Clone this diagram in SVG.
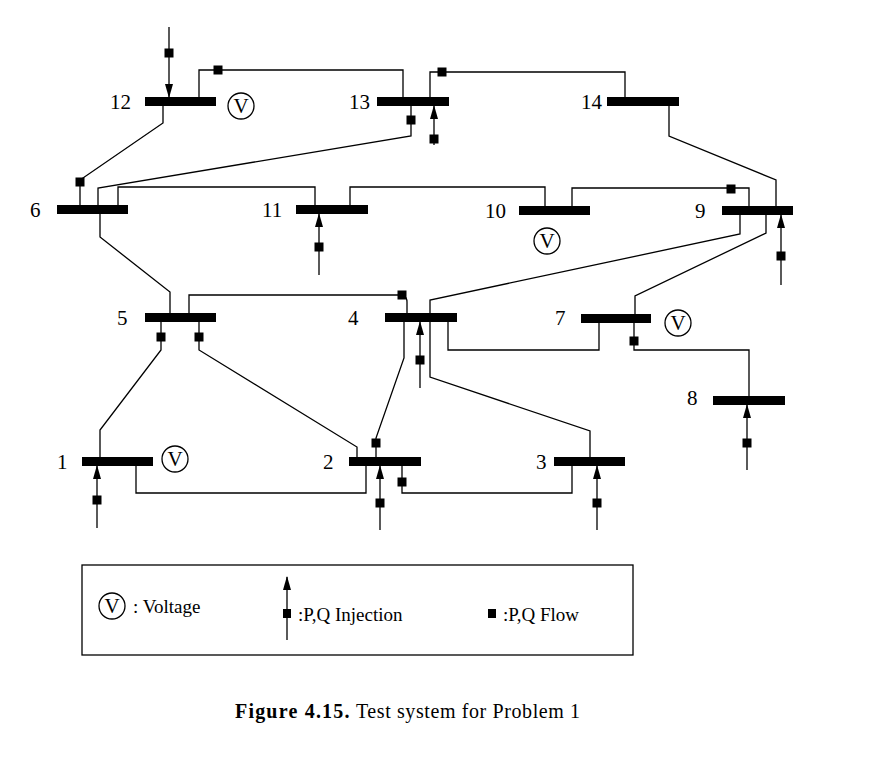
<svg xmlns="http://www.w3.org/2000/svg" width="887" height="758" viewBox="0 0 887 758">
<defs>
<style>
.bus{fill:#000}
.lbl{font-family:"Liberation Serif",serif;font-size:21px;fill:#000}
.ln{fill:none;stroke:#000;stroke-width:1.3}
.sq{fill:#000}
.vc{fill:#fff;stroke:#000;stroke-width:1.3}
</style>
<marker id="ah" viewBox="0 0 14 8" refX="13" refY="4" markerWidth="14" markerHeight="8" markerUnits="userSpaceOnUse" orient="auto"><path d="M0,0 L14,4 L0,8 z" fill="#000"/></marker>
</defs>
<rect width="887" height="758" fill="#fff"/>
<g id="connectors">
<path class="ln" d="M199,97 V70 H403 V97"/>
<path class="ln" d="M163,106 V123 L80,180 V205"/>
<path class="ln" d="M411,106 V136 L98,188 V205"/>
<path class="ln" d="M430,97 V72 H625 V97"/>
<path class="ln" d="M669,106 V136 L776,180 V206"/>
<path class="ln" d="M118,205 V187 H315 V205"/>
<path class="ln" d="M350,205 V187 H545 V206"/>
<path class="ln" d="M572,206 V188 H749 V206"/>
<path class="ln" d="M740,215 V234 L430,300 V313"/>
<path class="ln" d="M766,215 V233 L635,296 V314"/>
<path class="ln" d="M100,214 V237 L170,292 V313"/>
<path class="ln" d="M189,313 V295 H403 Q407,297 407,302 V313"/>
<path class="ln" d="M161,322 V350 L100,430 V457"/>
<path class="ln" d="M199,322 V350 L357,447 V457"/>
<path class="ln" d="M404,322 V358 L376,438 V457"/>
<path class="ln" d="M430,322 V377 L590,431 V457"/>
<path class="ln" d="M448,322 V350 H599 V323"/>
<path class="ln" d="M634,323 V350 H749 V396"/>
<path class="ln" d="M136,466 V493 H366 V466"/>
<path class="ln" d="M402,466 V493 H572 V466"/>
<line class="ln" x1="169" y1="27" x2="169" y2="97" marker-end="url(#ah)"/>
<line class="ln" x1="434" y1="145" x2="434" y2="106" marker-end="url(#ah)"/>
<line class="ln" x1="319" y1="275" x2="319" y2="214" marker-end="url(#ah)"/>
<line class="ln" x1="781" y1="285" x2="781" y2="215" marker-end="url(#ah)"/>
<line class="ln" x1="420" y1="388" x2="420" y2="322" marker-end="url(#ah)"/>
<line class="ln" x1="747" y1="470" x2="747" y2="405" marker-end="url(#ah)"/>
<line class="ln" x1="97" y1="528" x2="97" y2="466" marker-end="url(#ah)"/>
<line class="ln" x1="380" y1="530" x2="380" y2="466" marker-end="url(#ah)"/>
<line class="ln" x1="597" y1="530" x2="597" y2="466" marker-end="url(#ah)"/>
<g class="sq">
<rect x="164.5" y="48.5" width="9" height="9"/>
<rect x="213.5" y="65.5" width="9" height="9"/>
<rect x="75.5" y="177.5" width="9" height="9"/>
<rect x="406.5" y="115.5" width="9" height="9"/>
<rect x="429.5" y="134.5" width="9" height="9"/>
<rect x="437.5" y="67.5" width="9" height="9"/>
<rect x="726.5" y="184.5" width="9" height="9"/>
<rect x="314.5" y="242.5" width="9" height="9"/>
<rect x="776.5" y="251.5" width="9" height="9"/>
<rect x="397.5" y="290.5" width="9" height="9"/>
<rect x="156.5" y="332.5" width="9" height="9"/>
<rect x="194.5" y="332.5" width="9" height="9"/>
<rect x="415.5" y="355.5" width="9" height="9"/>
<rect x="629.5" y="336.5" width="9" height="9"/>
<rect x="742.5" y="438.5" width="9" height="9"/>
<rect x="371.5" y="438.5" width="9" height="9"/>
<rect x="92.5" y="495.5" width="9" height="9"/>
<rect x="375.5" y="498.5" width="9" height="9"/>
<rect x="397.5" y="477.5" width="9" height="9"/>
<rect x="592.5" y="498.5" width="9" height="9"/>
</g>
</g>
<g id="bus12"><rect class="bus" x="145" y="97" width="71" height="9"/><text class="lbl" x="110" y="109">12</text><circle class="vc" cx="241" cy="106" r="13"/><text class="lbl" x="241" y="113" text-anchor="middle">V</text></g>
<g id="bus13"><rect class="bus" x="377" y="97" width="72" height="9"/><text class="lbl" x="349" y="109">13</text></g>
<g id="bus14"><rect class="bus" x="607" y="97" width="72" height="9"/><text class="lbl" x="581" y="109">14</text></g>
<g id="bus6"><rect class="bus" x="57" y="205" width="71" height="9"/><text class="lbl" x="30" y="217">6</text></g>
<g id="bus11"><rect class="bus" x="296" y="205" width="72" height="9"/><text class="lbl" x="262" y="217">11</text></g>
<g id="bus10"><rect class="bus" x="519" y="206" width="71" height="9"/><text class="lbl" x="485" y="218">10</text><circle class="vc" cx="547" cy="241" r="13"/><text class="lbl" x="547" y="248" text-anchor="middle">V</text></g>
<g id="bus9"><rect class="bus" x="722" y="206" width="71" height="9"/><text class="lbl" x="695" y="218">9</text></g>
<g id="bus5"><rect class="bus" x="145" y="313" width="71" height="9"/><text class="lbl" x="117" y="325">5</text></g>
<g id="bus4"><rect class="bus" x="385" y="313" width="72" height="9"/><text class="lbl" x="348" y="325">4</text></g>
<g id="bus7"><rect class="bus" x="581" y="314" width="70" height="9"/><text class="lbl" x="555" y="325">7</text><circle class="vc" cx="678" cy="323" r="13"/><text class="lbl" x="678" y="330" text-anchor="middle">V</text></g>
<g id="bus8"><rect class="bus" x="713" y="396" width="72" height="9"/><text class="lbl" x="687" y="405">8</text></g>
<g id="bus1"><rect class="bus" x="82" y="457" width="71" height="9"/><text class="lbl" x="57" y="469">1</text><circle class="vc" cx="175" cy="459" r="13"/><text class="lbl" x="175" y="466" text-anchor="middle">V</text></g>
<g id="bus2"><rect class="bus" x="349" y="457" width="72" height="9"/><text class="lbl" x="323" y="469">2</text></g>
<g id="bus3"><rect class="bus" x="554" y="457" width="71" height="9"/><text class="lbl" x="536" y="469">3</text></g>
<g id="legend">
<rect x="82" y="565" width="551" height="90" fill="none" stroke="#000" stroke-width="1.3"/>
<circle class="vc" cx="112" cy="606" r="13"/><text class="lbl" x="112" y="613" text-anchor="middle">V</text>
<text class="lbl" x="133" y="613" style="font-size:19px">: Voltage</text>
<line class="ln" x1="287" y1="640" x2="287" y2="577" marker-end="url(#ah)"/>
<rect class="sq" x="283" y="609" width="8" height="9"/>
<text class="lbl" x="298" y="621" style="font-size:19px">:P,Q Injection</text>
<rect class="sq" x="488" y="609" width="8" height="9"/>
<text class="lbl" x="503" y="621" style="font-size:19px">:P,Q Flow</text>
</g>
<text class="lbl" x="235" y="718" style="font-size:20px;letter-spacing:0.6px"><tspan font-weight="bold" style="letter-spacing:1.2px">Figure 4.15.</tspan> Test system for Problem 1</text>
</svg>
